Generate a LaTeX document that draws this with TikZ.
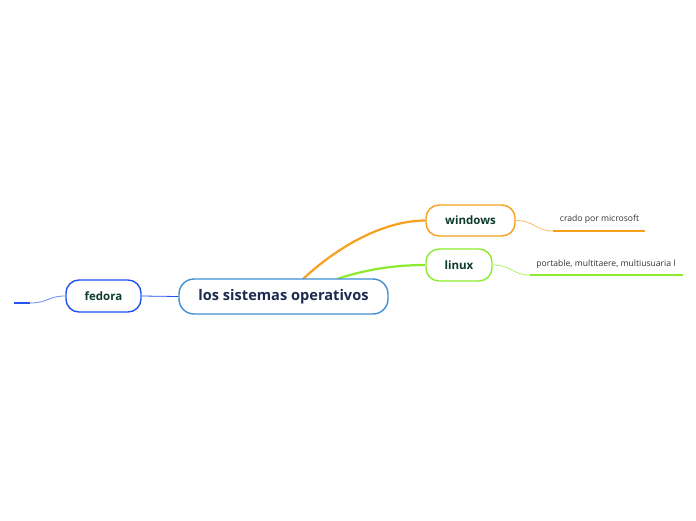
\documentclass[tikz,border=0pt]{standalone}
\usepackage{fontspec}
\setmainfont{Open Sans}
\usetikzlibrary{backgrounds}
\definecolor{corange}{HTML}{F7A01D}
\definecolor{cgreen}{HTML}{8CEB2C}
\definecolor{cblue}{HTML}{3D8FD6}
\definecolor{cfblue}{HTML}{2055F0}
\definecolor{ctext}{HTML}{0E3C2A}
\definecolor{cnavy}{HTML}{1B2A4E}
\definecolor{cgray}{HTML}{333333}
\tikzset{
  topic/.style={draw, line width=1.4pt, rounded corners=13pt, fill=white,
    font=\bfseries\fontsize{11.5}{13}\selectfont, text=ctext, inner sep=0pt},
  central/.style={draw=cblue, line width=1.4pt, rounded corners=15pt, fill=white,
    font=\bfseries\fontsize{14.6}{17}\selectfont, text=cnavy, inner sep=0pt,
    minimum width=209pt, minimum height=35pt},
  subtxt/.style={font=\fontsize{8.6}{10}\selectfont, text=cgray, inner sep=0pt},
  thinc/.style={line width=0.8pt},
  thickc/.style={line width=2.2pt},
  subline/.style={line width=2.6pt},
}
\begin{document}
\begin{tikzpicture}[x=1pt,y=-1pt]
\useasboundingbox (0,0) rectangle (696,520);
\coordinate (cw) at (303,279);
\coordinate (cl) at (337,279);
\node[central] (center) at (283.5,296.5) {\raisebox{-1pt}{los sistemas operativos}};
\node[topic, draw=corange, minimum width=89pt, minimum height=31pt] (win) at (470.5,220.5) {windows};
\node[topic, draw=cgreen, minimum width=66pt, minimum height=32pt] (lin) at (459,265) {linux};
\node[topic, draw=cfblue, minimum width=75pt, minimum height=32pt] (fed) at (103.5,296) {fedora};
\coordinate (ws) at (553,231);
\coordinate (we) at (645,231);
\node[subtxt] (wt) at (599.5,219.5) {crado por microsoft};
\coordinate (ls) at (530,275);
\coordinate (le) at (683,275);
\node[subtxt] (lt) at (606,264) {portable, multitaere, multiusuaria l};
\coordinate (fs) at (30,303);
\coordinate (fe) at (14,303);
\begin{pgfonlayer}{background}
\draw[corange, thickc] (cw) .. controls (345,240) and (390,220.5) .. (win.west);
\draw[cgreen, thickc] (cl) .. controls (370,268) and (400,265) .. (lin.west);
\draw[cfblue, thinc] (fed.east) -- (center.west);
\draw[corange!70, thinc] (win.east) .. controls (535,220.5) and (535,231) .. (ws);
\draw[corange, subline] (ws) -- (we);
\draw[cgreen!70, thinc] (lin.east) .. controls (512,265) and (512,275) .. (ls);
\draw[cgreen, subline] (ls) -- (le);
\draw[cfblue!70, thinc] (fed.west) .. controls (48,296) and (48,303) .. (fs);
\draw[cfblue, subline] (fs) -- (fe);
\end{pgfonlayer}
\end{tikzpicture}
\end{document}
